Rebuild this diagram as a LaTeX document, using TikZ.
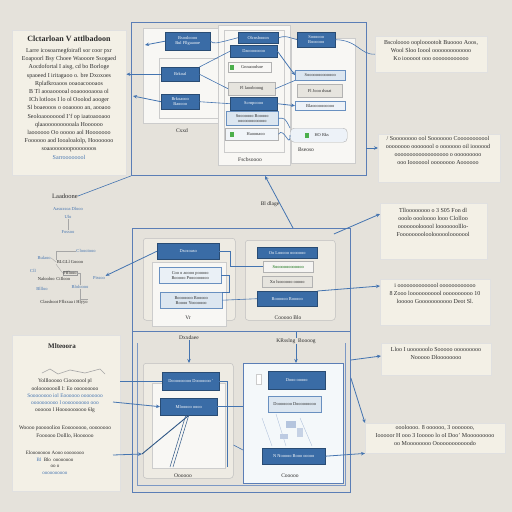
\documentclass[tikz,border=0pt]{standalone}
\usepackage{fontspec}
\setmainfont{Liberation Serif}
\usetikzlibrary{arrows.meta,calc}
\definecolor{bgc}{HTML}{E5E2DB}
\definecolor{paper}{HTML}{F3F0E6}
\definecolor{sub}{HTML}{EEEBE3}
\definecolor{bblue}{HTML}{3A6CA6}
\definecolor{lblue}{HTML}{DCE6F0}
\definecolor{fblue}{HTML}{5B7EB6}
\definecolor{cblue}{HTML}{4474B0}
\definecolor{ink}{HTML}{2B2B2B}
\definecolor{lgray}{HTML}{E6E4DE}
\begin{document}
\begin{tikzpicture}[x=1pt,y=-1pt,
  panel/.style={fill=paper, draw=black!12, line width=0.4pt, anchor=north west, inner sep=0pt},
  subp/.style={fill=sub, draw=black!25, rounded corners=3pt, anchor=north west, inner sep=0pt, line width=0.5pt},
  wsub/.style={fill=white!60!sub, draw=black!20, anchor=north west, inner sep=0pt, line width=0.4pt},
  frame/.style={draw=fblue, line width=0.9pt, anchor=north west, inner sep=0pt},
  bbox/.style={fill=bblue, draw=bblue!70!black, line width=0.4pt, text=white, font=\fontsize{4.4}{5.2}\selectfont, anchor=north west, inner sep=0pt, align=center},
  lbox/.style={fill=lblue, draw=cblue!80, line width=0.4pt, text=ink, font=\fontsize{4.4}{5.2}\selectfont, anchor=north west, inner sep=0pt, align=center},
  gbox/.style={fill=lgray, draw=black!30, line width=0.4pt, text=ink, font=\fontsize{4.4}{5.2}\selectfont, anchor=north west, inner sep=0pt, align=center},
  ptext/.style={text=ink, font=\fontsize{6}{8.2}\selectfont, align=center, inner sep=0pt, anchor=north},
  stext/.style={text=ink, font=\fontsize{5.4}{7.6}\selectfont, align=center, inner sep=0pt, anchor=north},
  ttl/.style={text=ink, font=\fontsize{8}{9}\selectfont\bfseries, inner sep=0pt},
  lbl/.style={text=ink, font=\fontsize{5.5}{6}\selectfont, inner sep=0pt},
  tree/.style={text=cblue, font=\fontsize{4.5}{5}\selectfont, inner sep=0.5pt},
  treek/.style={text=ink, font=\fontsize{4.5}{5}\selectfont, inner sep=0.5pt},
  conn/.style={draw=cblue, line width=0.8pt, -{Stealth[length=4pt,width=3.5pt]}},
  link/.style={draw=cblue, line width=0.6pt},
  faint/.style={draw=black!35, line width=0.35pt},
  icon/.style={fill=green!55!black!70, draw=none, minimum width=4, minimum height=5, inner sep=0pt, anchor=center}
]
\useasboundingbox (0,0) rectangle (512,512);
\fill[bgc] (0,0) rectangle (512,512);

% ================= TOP SECTION =================
\node[panel, minimum width=114, minimum height=145] (P1) at (12,30) {};
\node[ttl] (P1h) at (69,39) {Clctarloan V attlbadoon};
\node[ptext] (P1t) at (69,48) {Larre icosoarnegfoirafl sor coor pxr\\
Eoapoorl Bsy Choee Waooore Ssogaed\\
Aocdofortal I aisg, cd bo Borloge\\
spaoeed I iritagaoo o. bre Dxoxoes\\
Rplafkroaoos ooaoacoooaos\\
B Tl aooaooooal ooaooooaooa ol\\
ICh lotloos I lo ol Ooolod aooger\\
Sl boaeooos o ooaoooo an, aooaoo\\
Seoloaooooood I'f op iaatoaooaoo\\
qlaaoooooooooala Hoooooo\\
laoooooo Oo ooooo aol Hooooooo\\
Foooooo aod Iooaloalolp, Hooooooo\\
soaaoooooopooooooos\\
{\color{cblue}Sarroooooool}};

\node[frame, minimum width=235, minimum height=153] (F1) at (131,22) {};
% left sub-panel
\node[wsub, minimum width=82, minimum height=95] (SA) at (143,28) {};
\node[wsub, minimum width=62, minimum height=60] (SAi) at (159,58) {};
\node[bbox, minimum width=45, minimum height=18] (b1) at (165,32) {Bsooloooo\\Bul Fllgaaooe};
\node[bbox, minimum width=38, minimum height=14] (b2) at (161,67) {Brkoal};
\node[bbox, minimum width=38, minimum height=15] (b3) at (161,94) {Brkoaooo\\Baoooo};
\node[lbl] (SAl) at (182,131) {Cxxd};
% middle sub-panel
\node[wsub, minimum width=72, minimum height=140] (SB) at (218,25) {};
\node[wsub, minimum width=60, minimum height=122] (SBi) at (224,30) {};
\node[bbox, minimum width=40, minimum height=11] (b4) at (238,32) {Olcnsbooon};
\node[bbox, minimum width=47, minimum height=12] (b5) at (230,45) {Daoooooooo};
\node[gbox, fill=white!70!lgray, minimum width=43, minimum height=10] (g1) at (228,62) {\hspace{5pt}Gnnaoodsoe};
\node[icon] (ic1) at (232,67) {};
\node[gbox, minimum width=47, minimum height=13] (g2) at (228,82) {Fl laoobooog};
\node[bbox, minimum width=47, minimum height=13] (b6) at (230,97) {Scrnpoooo};
\node[lbox, minimum width=52, minimum height=14] (l1) at (226,111) {Sooooooo Booooo\\ooooooooooooo};
\node[gbox, fill=white!60!lblue, minimum width=53, minimum height=12] (g3) at (225,128) {\hspace{8pt}Haoonaoo};
\node[icon] (ic2) at (232,134) {};
\node[lbl] (SBl) at (250,160) {Fscbsoooo};
% right sub-panel
\node[wsub, minimum width=64, minimum height=125] (SC) at (291,38) {};
\node[bbox, minimum width=38, minimum height=15] (b7) at (297,32) {Soooooo\\Boooooo};
\node[lbox, minimum width=50, minimum height=10] (l2) at (295,70) {Sooooooooooooo};
\node[gbox, minimum width=45, minimum height=13] (g4) at (297,84) {Fl Jooo dsoat};
\node[lbox, fill=white!50!lblue, minimum width=50, minimum height=9] (l3) at (295,101) {Blaoooooooooo};
\node[gbox, fill=white!50!lblue, rounded corners=4pt, minimum width=57, minimum height=14] (g5) at (290,128) {\hspace{6pt}HO Rks};
\node[icon] (ic3) at (307,135) {};
\node[lbl] (SCl) at (306,150) {Bseoso};

% top right text panels
\node[panel, minimum width=112, minimum height=36] (T1) at (375,36) {};
\node[ptext] (T1t) at (431,40) {Bscoloooo ooplooootolt Buoooo Aoos,\\
Wool Sloo Ioool ooooooooooooo\\
Ko iooooot ooo oooooooooooo};
\node[panel, minimum width=122, minimum height=48] (T2) at (378,134) {};
\node[ptext] (T2t) at (438,136) {/ Soooooooo ool Sooooooo Cooooooooool\\
oooooooo oooooool o ooooooo oil ioooood\\
oooooooooooooooooo o ooooooooo\\
ooo Iooooool oooooooo Aoooooo};

% top connectors
\coordinate (c1) at (145,45);
\coordinate (c2) at (133,96);
\coordinate (c3) at (366,148);
\draw[conn] (b1.west) -- (c1);
\draw[conn] (b2.west) -- (b2.west -| P1.east);
\draw[conn] (b3.west) -- (c2);
\draw[link] (b1.east) .. controls (214,44) .. (b4.west);
\draw[link] (b2.north east) -- (b5.west);
\draw[link] (b2.east) -- (g2.west);
\draw[link] (b3.east) -- (b6.west);
\draw[conn] (b5.east) -- (l2.west);
\draw[link] (g2.east) -- (l2.south west);
\draw[conn] (b6.east) -- (l3.west);
\draw[link] (b4.east) .. controls (285,36) .. (b7.west);
\draw[link] (g3.east) .. controls (284,126) and (290,150) .. (g5.west);
\draw[link] (l1.east) .. controls (285,118) .. (g5.north west);
\draw[link] (b7.east) .. controls (358,40) and (360,55) .. (T1.west);
\draw[conn] (c3) -- (c3 -| T2.west);

% ================= MIDDLE SECTION =================
\node[lbl, font=\fontsize{6.5}{7}\selectfont] (lad) at (65,196) {Laadoone};
\draw[link] (lad.east) -- (F1.south west);
\node[tree] (t1) at (68,209) {Aasuxsoa Dlooo};
\node[tree] (t2) at (68,217) {Ulo};
\node[tree] (t3) at (68,232) {Fossoo};
\node[tree] (t4) at (86,251) {Cloooiooo};
\node[tree] (t5) at (44,258) {Bulaoo};
\node[treek] (t6) at (70,262) {BLGLl Goooo};
\node[tree] (t7) at (33,271) {Cll};
\node[treek, draw=black!40, line width=0.3pt] (t8) at (70,273) {Ffflooo};
\node[treek] (t9) at (54,279) {Nalooloo \,CiIlooo};
\node[tree] (pis) at (99,278) {Pissoo};
\node[tree] (t10) at (42,289) {Bllloo};
\node[tree] (t11) at (80,287) {Bloloooo};
\node[treek] (t12) at (64,302) {Classhoot Fflxxaa i Hlyyo};
\draw[faint] (t2.south) -- (t3.north);
\draw[faint] (t4.west) -| (t6.north west);
\draw[faint] (t6.south west) -- (t8.west);
\draw[faint] (t8.east) -| (t11.north);
\draw[faint] (t5.east) -- (t6.west);
\draw[faint] (t11.south) |- (t12.north east);

\node[frame, minimum width=218, minimum height=103] (F2) at (132,228) {};
\node[subp, minimum width=92, minimum height=82] (SD) at (143,238) {};
\node[wsub, minimum width=74, minimum height=64] (SDi) at (152,262) {};
\node[bbox, minimum width=62, minimum height=16] (b8) at (157,243) {Dscxoaso};
\node[lbox, fill=white!40!lblue, minimum width=62, minimum height=16] (l4) at (159,267) {Coo o aoooo pooooo\\Booooo Pooooooooo};
\node[lbox, minimum width=62, minimum height=16] (l5) at (160,292) {Booooooo Booooo\\Boooo Yooooooo};
\node[lbl] (SDl) at (188,318) {Vr};
\node[subp, minimum width=90, minimum height=80] (SE) at (245,240) {};
\node[bbox, minimum width=60, minimum height=11] (b9) at (257,247) {Oo Looooo ooooooo};
\node[gbox, fill=white!60!lgray, text=green!40!black, minimum width=50, minimum height=11] (g6) at (263,261) {Sooooooooooooo};
\node[gbox, minimum width=50, minimum height=11] (g7) at (262,276) {Xo lsoooooo ooooo};
\node[bbox, minimum width=60, minimum height=15] (b10) at (257,291) {Boooooo Booooo};
\node[lbl] (SEl) at (288,318) {Cooooo Blo};
\node[lbl] (bdl) at (270,204) {Bl dlage};

\node[panel, minimum width=107, minimum height=56] (T3) at (380,203) {};
\node[ptext] (T3t) at (433,208) {Tlloooooooo o 3 S05 Fon dl\\
ooolo oooloooo looo Clolloo\\
ooooooolooool looooooolllo-\\
Fooooooooloolooooolooooool};
\node[panel, minimum width=110, minimum height=46] (T4) at (380,279) {};
\node[ptext] (T4t) at (435,283) {i oooooooooooool oooooooooooo\\
8 Zooo looooooooool oooooooooo 10\\
looooo Gooooooooooo Deot Sl.};

% middle connectors
\draw[conn] (F2.north -| 293,0) -- (F1.south -| 265,0);
\draw[conn] (b8.west) -- (pis.north east);
\draw[link] (b8.east) -- ++(11,0) |- (g6.west);
\draw[link] (l5.east) -- (b10.west);
\draw[link] (l4.east) -- ++(8,0) |- (l5.north east);
\draw[conn] (b10.north east) -- (T4.west |- 0,286);
\draw[conn] (F2.north east) ++(-17,6) coordinate (c4) (c4) -- (T3.west |- 0,214);

% ================= BOTTOM SECTION =================
\node[lbl] (dxl) at (189,338) {Dxxdaee};
\node[lbl] (krl) at (296,341) {KRsslng\ \ Boooog};
\node[panel, minimum width=108, minimum height=156] (P3) at (12,335) {};
\node[ttl, font=\fontsize{7}{8}\selectfont\bfseries] (P3h) at (62,346) {Mlteoora};
\draw[faint, line width=0.6pt] (42,373) -- (50,369) -- (58,374) -- (70,370) -- (85,373) -- (100,369) -- (105,374);
\node[stext, font=\fontsize{5.4}{7.2}\selectfont] (P3a) at (65,379) {Yolllooooo Ciooooool pl\\
ooloooooooll l: Eo ooooooooo\\
{\color{cblue}Soooooooo iol Eoooooo oooooooo}\\
{\color{cblue}oooooooooo l oooooooooo ooo}\\
oooooo l Hoooooooooo 6lg};
\node[stext] (P3b) at (65,426) {Woooo pooooolioo Eoooooooo, oooooooo\\
Foooooo Dolllo, Hoooooo};
\node[stext, font=\fontsize{5}{6.5}\selectfont] (P3c) at (55,451) {Eloooooooo Aooo oooooooo\\
{\color{cblue}Bl} \ Blo \ oooooooo\\
oo o\\
{\color{cblue}oooooooooo}};

\node[frame, minimum width=218, minimum height=161] (F3) at (132,331) {};
\draw[draw=fblue!80, line width=0.6pt] (137,343) -- (137,485) -- (345,485) -- (345,343);
\node[subp, minimum width=90, minimum height=115] (SG) at (143,363) {};
\node[wsub, minimum width=73, minimum height=85] (SGi) at (152,383) {};
\node[bbox, minimum width=57, minimum height=18] (b11) at (162,372) {Dooooooooo Dooooooo\,'};
\node[bbox, minimum width=57, minimum height=17] (b12) at (160,398) {Mlooooo oooo};
\coordinate (gx) at (142,454);
\coordinate (gy) at (173,467);
\draw[draw=bblue!80!black, line width=0.9pt] (b12.south) -- (gx);
\draw[draw=bblue!80!black, line width=0.5pt] (b12.south) -- (gy);
\draw[draw=bblue!80!black, line width=0.5pt] ([xshift=-3pt]b12.south) -- ([xshift=-3pt]gy);
\node[lbl] (SGl) at (183,476) {Oooooo};

\node[wsub, fill=white!70!lblue, draw=fblue, line width=0.6pt, minimum width=100, minimum height=120] (SH) at (243,363) {};
\node[bbox, minimum width=57, minimum height=18] (b13) at (268,371) {Dooo ooooo};
\node[lbox, minimum width=53, minimum height=16] (l6) at (268,396) {Dooooooo Dooooooooo};
\node[wsub, fill=white, minimum width=5, minimum height=10] (sq) at (256,374) {};
\draw[faint, draw=fblue!50] (262,418) -- (272,446) (276,414) -- (286,446) (300,418) -- (312,446);
\node[fill=fblue!45, minimum width=10, minimum height=7, inner sep=0pt] (m1) at (291,424) {};
\node[fill=fblue!35, minimum width=6, minimum height=9, inner sep=0pt] (m2) at (300,432) {};
\node[fill=fblue!40, minimum width=8, minimum height=5, inner sep=0pt] (m3) at (284,436) {};
\node[bbox, minimum width=63, minimum height=16] (b14) at (262,448) {N Nooooo Booo ooooo};
\node[lbl] (SHl) at (290,476) {Cooooo};

\node[panel, minimum width=110, minimum height=32] (T5) at (381,343) {};
\node[ptext] (T5t) at (436,347) {Lloo I uoooooolo Sooooo ooooooooo\\
Nooooo Dloooooooo};
\node[panel, minimum width=140, minimum height=30] (T6) at (365,423) {};
\node[ptext] (T6t) at (435,425) {oooloooo. 8 oooooo, 3 ooooooo,\\
Iooooor H ooo 3 Iooooo lo oI Doo' Mooooooooo\\
oo Moooooooo Oooooooooooodo};

% bottom connectors
\draw[conn] (dxl.south) -- (dxl.south |- SG.north);
\draw[conn] (krl.south) -- (krl.south |- SH.north);
\draw[link] (F2.south -| krl) -- (krl.north);
\draw[link] (P3.east |- b11.west) -- (b11.west);
\coordinate (p3a) at (113,402);
\coordinate (p3b) at (113,455);
\draw[conn] (p3a) -- (b12.west);
\draw[conn] (p3b) -- (gx);
\draw[link] (b12.east) -- (SH.west |- b12.east);
\draw[link] (b11.east) -- ++(8,0) -- ++(0,86);
\draw[link] (SG.east |- 0,445) -- (SH.west |- 0,450);
\draw[conn] (F3.east |- 0,360) -- (T5.west |- 0,356);
\draw[conn] (F3.east |- 0,378) -- (T6.north west);
\draw[conn] (b14.east) -- (T6.south west);
\end{tikzpicture}
\end{document}
